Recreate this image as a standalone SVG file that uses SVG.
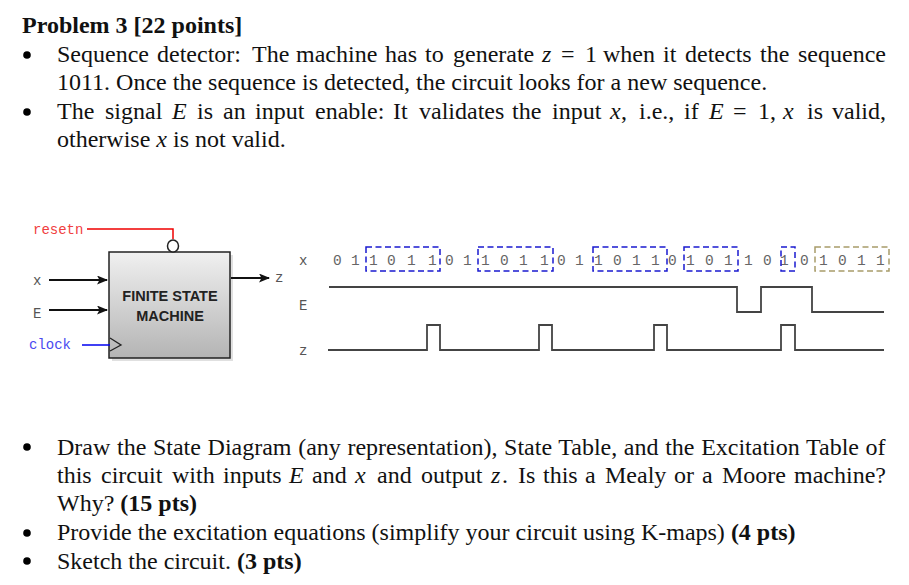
<svg xmlns="http://www.w3.org/2000/svg" width="909" height="585" viewBox="0 0 909 585">
<style>
.t{font-family:"Liberation Serif","Times New Roman",serif;font-size:24px;fill:#111}
.b{font-weight:bold}
.i{font-style:italic}
.m{font-family:"Liberation Mono","DejaVu Sans Mono",monospace;font-size:14px;fill:#555}
.w{font-family:"Liberation Mono","DejaVu Sans Mono",monospace;font-size:14.5px;fill:#666}
.l{fill:none;stroke:#111;stroke-width:1.8}
.s{fill:none;stroke:#444;stroke-width:1.8}
.d{fill:none;stroke:#1a1ad0;stroke-width:1.5;stroke-dasharray:6 3.5}
.g{fill:none;stroke:#a89c6a;stroke-width:1.5;stroke-dasharray:6 3.5}
.f{font-family:"Liberation Sans",Arial,sans-serif;font-size:14.5px;font-weight:bold;fill:#222;text-anchor:middle}
</style>
<defs>
<linearGradient id="g" x1="0" y1="0" x2="0" y2="1"><stop offset="0" stop-color="#f0f0f0"/><stop offset="1" stop-color="#b4b4b4"/></linearGradient>
<marker id="a" markerWidth="11" markerHeight="9" refX="10" refY="4.5" orient="auto" markerUnits="userSpaceOnUse"><path d="M0 0L11 4.5L0 9L2.5 4.5Z" fill="#111"/></marker>
</defs>
<rect width="909" height="585" fill="#fff"/>
<g id="text-top" fill="#000">
<text class="t b" x="22" y="33">Problem 3 [22 points]</text>
<circle cx="27" cy="55" r="3.8"/>
<text class="t" y="62"><tspan x="57">Sequence </tspan><tspan x="157">detector: </tspan><tspan x="252">The </tspan><tspan x="296">machine </tspan><tspan x="385">has </tspan><tspan x="425">to </tspan><tspan x="453">generate </tspan><tspan class="i" x="542">z </tspan><tspan x="561">= </tspan><tspan x="585">1 </tspan><tspan x="603">when </tspan><tspan x="663">it </tspan><tspan x="685">detects </tspan><tspan x="760">the </tspan><tspan x="798">sequence</tspan></text>
<text class="t" x="57" y="90">1011. Once the sequence is detected, the circuit looks for a new sequence.</text>
<circle cx="27" cy="112" r="3.8"/>
<text class="t" y="119"><tspan x="57">The </tspan><tspan x="105">signal </tspan><tspan class="i" x="172">E </tspan><tspan x="197">is </tspan><tspan x="223">an </tspan><tspan x="255">input </tspan><tspan x="315">enable: </tspan><tspan x="393">It </tspan><tspan x="419">validates </tspan><tspan x="512">the </tspan><tspan x="552">input </tspan><tspan class="i" x="610">x</tspan><tspan x="621">, </tspan><tspan x="639">i.e., </tspan><tspan x="684">if </tspan><tspan class="i" x="709">E </tspan><tspan x="733">= </tspan><tspan x="758">1, </tspan><tspan class="i" x="783">x </tspan><tspan x="807">is </tspan><tspan x="832">valid,</tspan></text>
<text class="t" x="57" y="147">otherwise <tspan class="i">x</tspan> is not valid.</text>
</g>
<g id="fsm">
<rect x="112" y="255" width="121" height="106" fill="#000" opacity=".12"/>
<rect x="109" y="252" width="121" height="106" fill="url(#g)" stroke="#222" stroke-width="1.5"/>
<text class="f" x="170" y="301">FINITE STATE</text>
<text class="f" x="170" y="321">MACHINE</text>
<ellipse cx="173" cy="246" rx="5.5" ry="6" fill="#fff" stroke="#222" stroke-width="1.5"/>
<path d="M110 338L121 345L110 351" fill="none" stroke="#222" stroke-width="1.3"/>
</g>
<g id="labels">
<text class="m" x="33" y="234" style="fill:#f04040">resetn</text>
<text class="m" x="33" y="285">x</text>
<text class="m" x="33" y="318">E</text>
<text class="m" x="29" y="349" style="fill:#4a4af0">clock</text>
<text class="m" x="275" y="282">z</text>
<text class="m" x="299" y="265">x</text>
<text class="m" x="299" y="310">E</text>
<text class="m" x="299" y="355">z</text>
</g>
<g id="connectors">
<path d="M87 229H173V239" fill="none" stroke="#f00000" stroke-width="1.5"/>
<path class="l" d="M49 280H107" marker-end="url(#a)"/>
<path class="l" d="M49 310H107" marker-end="url(#a)"/>
<path d="M82 345H110" fill="none" stroke="#0000f0" stroke-width="1.5"/>
<path class="l" d="M231 278H269" marker-end="url(#a)"/>
</g>
<g id="waveforms">
<path class="s" d="M329 287H737V312H761V287H812V312H884"/>
<path class="s" d="M328 350H427V325H440V350H539V325H552V350H654V325H667V350H781V325H795V350H884"/>
</g>
<g id="sequence">
<text class="w" y="265"><tspan x="333">0 </tspan><tspan x="351">1 </tspan><tspan x="369">1 </tspan><tspan x="387">0 </tspan><tspan x="407">1 </tspan><tspan x="428">1 </tspan><tspan x="445">0 </tspan><tspan x="463">1 </tspan><tspan x="481">1 </tspan><tspan x="500">0 </tspan><tspan x="519">1 </tspan><tspan x="540">1 </tspan><tspan x="557">0 </tspan><tspan x="575">1 </tspan><tspan x="594">1 </tspan><tspan x="613">0 </tspan><tspan x="632">1 </tspan><tspan x="651">1 </tspan><tspan x="668">0 </tspan><tspan x="686">1 </tspan><tspan x="705">0 </tspan><tspan x="724">1 </tspan><tspan x="744">1 </tspan><tspan x="763">0 </tspan><tspan x="780">1 </tspan><tspan x="800">0 </tspan><tspan x="819">1 </tspan><tspan x="838">0 </tspan><tspan x="857">1 </tspan><tspan x="876">1</tspan></text>
<rect class="d" x="366" y="247" width="74" height="24"/>
<rect class="d" x="478" y="247" width="75" height="24"/>
<rect class="d" x="593" y="247" width="74" height="24"/>
<rect class="d" x="684" y="247" width="54" height="24"/>
<rect class="d" x="781" y="247" width="14" height="24"/>
<rect class="g" x="815" y="247" width="74" height="24"/>
</g>
<g id="text-bottom" fill="#000">
<circle cx="27" cy="447" r="3.8"/>
<text class="t" x="57" y="455" word-spacing="0.65">Draw the State Diagram (any representation), State Table, and the Excitation Table of</text>
<text class="t" y="483"><tspan x="57">this </tspan><tspan x="101">circuit </tspan><tspan x="172">with </tspan><tspan x="223">inputs </tspan><tspan class="i" x="289">E </tspan><tspan x="312">and </tspan><tspan class="i" x="355">x </tspan><tspan x="377">and </tspan><tspan x="421">output </tspan><tspan class="i" x="491">z</tspan><tspan x="502">. </tspan><tspan x="518">Is </tspan><tspan x="543">this </tspan><tspan x="585">a </tspan><tspan x="605">Mealy </tspan><tspan x="674">or </tspan><tspan x="702">a </tspan><tspan x="722">Moore </tspan><tspan x="794">machine?</tspan></text>
<text class="t" x="57" y="511">Why? <tspan class="b">(15 pts)</tspan></text>
<circle cx="27" cy="533" r="3.8"/>
<text class="t" x="57" y="540">Provide the excitation equations (simplify your circuit using K-maps) <tspan class="b">(4 pts)</tspan></text>
<circle cx="27" cy="561" r="3.8"/>
<text class="t" x="57" y="569">Sketch the circuit. <tspan class="b">(3 pts)</tspan></text>
</g>
</svg>
